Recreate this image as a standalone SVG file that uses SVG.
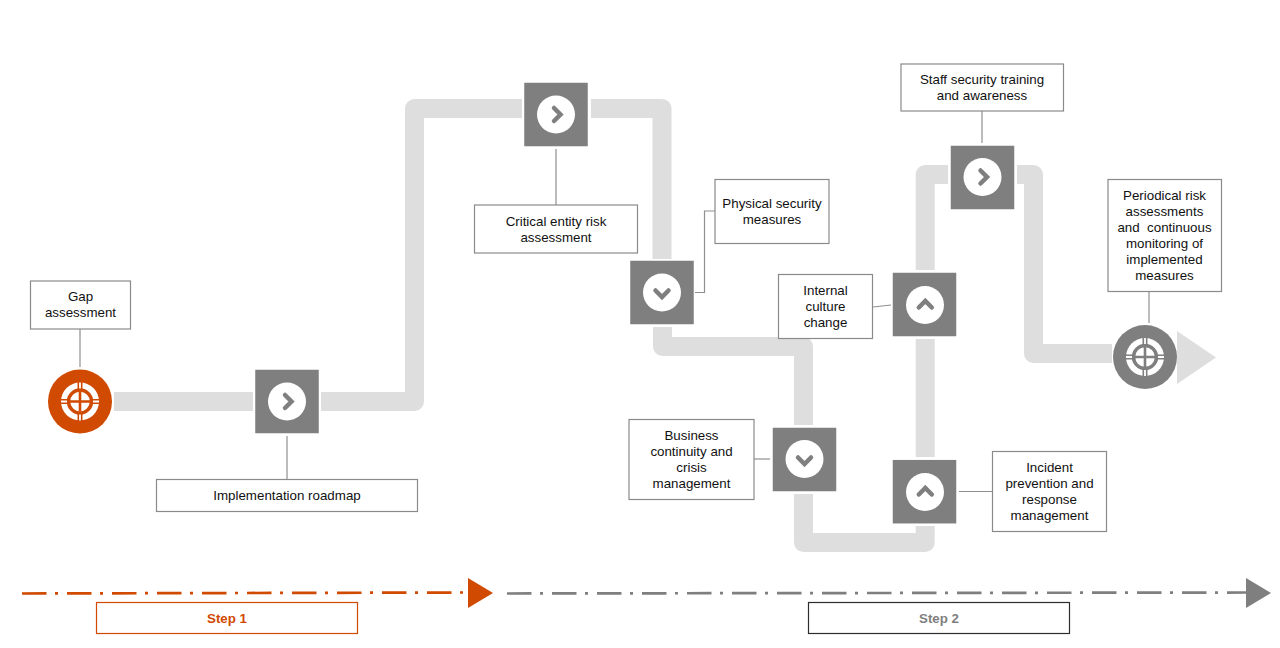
<svg xmlns="http://www.w3.org/2000/svg" width="1280" height="648" viewBox="0 0 1280 648">
<style>
.track{fill:none;stroke:#dedede;stroke-width:19;stroke-linejoin:round}
.lead{fill:none;stroke:#8f8f8f;stroke-width:1.2}
.box{fill:#fff;stroke:#8a8a8a;stroke-width:1.2}
.sq{fill:#7f7f7f}
.disc{fill:#fff}
.chev{fill:none;stroke:#7f7f7f;stroke-width:4.5;stroke-linecap:round;stroke-linejoin:miter}
text{font-family:"Liberation Sans",Arial,sans-serif;font-size:13.33px;fill:#111;text-anchor:middle}
.step{font-weight:700}
.tl{fill:none;stroke-width:2.700;stroke-dasharray:24.5 8.5 3 9}
.tick{fill:none;stroke:#fff;stroke-width:1.800}
.o{color:#d04a02}
.g{color:#7f7f7f}
</style>
<defs>
<g id="target">
<circle r="32" fill="currentColor"/>
<circle r="19" fill="#fff"/>
<circle r="11.500" fill="none" stroke="currentColor" stroke-width="3.500"/>
<path d="M0 -20V-12M0 20V12M-20 0H-12M20 0H12" fill="none" stroke="currentColor" stroke-width="5"/>
<path d="M0 -10V10M-10 0H10" fill="none" stroke="currentColor" stroke-width="2.600"/>
<path class="tick" d="M0 -19V-13M0 19V13M-19 0H-13M19 0H13"/>
</g>
<g id="squareIcon"><rect x="-31.750" y="-31.750" width="63.500" height="63.500" class="sq"/></g>
</defs>
<g id="connectors">
<path class="track" d="M114 401.500H253"/>
<path class="track" d="M321 401.500H414.500V108.500H522"/>
<path class="track" d="M591 108.500H662V259"/>
<path class="track" d="M662.500 327V346.500H803.500V425"/>
<path class="track" d="M803.500 494V542.500H925.200V526"/>
<path class="track" d="M925.200 457V339"/>
<path class="track" d="M925.200 270V174.500H948"/>
<path class="track" d="M1017 174.500H1033.500V353.500H1112"/>
<path fill="#dedede" d="M1177 331L1216 357.500L1177 384Z"/>
<path class="lead" d="M80 329V367"/>
<path class="lead" d="M287 436V479"/>
<path class="lead" d="M556 149V205"/>
<path class="lead" d="M695 292.500H704.500V211H715"/>
<path class="lead" d="M873 307L891 305"/>
<path class="lead" d="M754 459H770"/>
<path class="lead" d="M959 491.500H992"/>
<path class="lead" d="M982 111V143"/>
<path class="lead" d="M1149 292V323"/>
<path class="tl" stroke="#d04a02" d="M22 593.500L467 592.500"/>
<path fill="#d04a02" d="M468 578L493 593L468 608Z"/>
<path class="tl" stroke="#7f7f7f" d="M507 593.500L1246 592.500"/>
<path fill="#7f7f7f" d="M1246 578L1271 593L1246 608Z"/>
</g>
<g id="n-start" class="o"><use href="#target" x="80" y="401.500"/></g>
<g id="n-end" class="g"><use href="#target" x="1145" y="357"/></g>
<g id="n-impl"><use href="#squareIcon" x="287" y="401.500"/><circle class="disc" cx="287" cy="401.500" r="19"/><path class="chev" d="M285 395L291.500 401.500L285 408"/></g>
<g id="n-crit"><use href="#squareIcon" x="556" y="114.500"/><circle class="disc" cx="556" cy="114.500" r="19"/><path class="chev" d="M554 108L560.500 114.500L554 121"/></g>
<g id="n-phys"><use href="#squareIcon" x="662" y="292.500"/><circle class="disc" cx="662" cy="292.500" r="19"/><path class="chev" d="M655.500 290.500L662 297L668.500 290.500"/></g>
<g id="n-bus"><use href="#squareIcon" x="804.500" y="459.500"/><circle class="disc" cx="804.500" cy="459" r="19"/><path class="chev" d="M798 457.500L804.500 464L811 457.500"/></g>
<g id="n-inc"><use href="#squareIcon" x="924.500" y="491.700"/><circle class="disc" cx="925" cy="492" r="19"/><path class="chev" d="M918.800 494.500L925.300 488L931.800 494.500"/></g>
<g id="n-int"><use href="#squareIcon" x="924.500" y="304.500"/><circle class="disc" cx="925" cy="305" r="19"/><path class="chev" d="M918.800 307.500L925.300 301L931.800 307.500"/></g>
<g id="n-staff"><use href="#squareIcon" x="982.500" y="177.500"/><circle class="disc" cx="982.500" cy="177" r="19"/><path class="chev" d="M980.500 170.500L987 177L980.500 183.500"/></g>
<g id="b-gap"><rect class="box" x="30.500" y="281" width="100" height="48"/><text x="80.500" y="301">Gap</text><text x="80.500" y="317">assessment</text></g>
<g id="b-impl"><rect class="box" x="156.500" y="479.500" width="261" height="32"/><text x="287" y="500">Implementation roadmap</text></g>
<g id="b-crit"><rect class="box" x="474.500" y="205" width="163" height="48"/><text x="556" y="226">Critical entity risk</text><text x="556" y="242">assessment</text></g>
<g id="b-phys"><rect class="box" x="715" y="179.500" width="114" height="64"/><text x="772" y="208">Physical security</text><text x="772" y="224">measures</text></g>
<g id="b-int"><rect class="box" x="778.500" y="274.500" width="94" height="64"/><text x="825.500" y="295">Internal</text><text x="825.500" y="311">culture</text><text x="825.500" y="327">change</text></g>
<g id="b-bus"><rect class="box" x="629" y="419.500" width="125" height="80"/><text x="691.500" y="440">Business</text><text x="691.500" y="456">continuity and</text><text x="691.500" y="472">crisis</text><text x="691.500" y="488">management</text></g>
<g id="b-inc"><rect class="box" x="992.500" y="451.500" width="114" height="80"/><text x="1049.500" y="472">Incident</text><text x="1049.500" y="488">prevention and</text><text x="1049.500" y="504">response</text><text x="1049.500" y="520">management</text></g>
<g id="b-staff"><rect class="box" x="901" y="64" width="162.500" height="47"/><text x="982" y="84">Staff security training</text><text x="982" y="100">and awareness</text></g>
<g id="b-per"><rect class="box" x="1108" y="179.500" width="113.500" height="112"/><text x="1164.500" y="200">Periodical risk</text><text x="1164.500" y="216">assessments</text><text x="1164.500" y="232" xml:space="preserve">and  continuous</text><text x="1164.500" y="248">monitoring of</text><text x="1164.500" y="264">implemented</text><text x="1164.500" y="280">measures</text></g>
<g id="step1"><rect x="96.500" y="602.500" width="261" height="31" fill="#fff" stroke="#d04a02" stroke-width="1.2"/><text class="step" x="227" y="623" style="fill:#d04a02">Step 1</text></g>
<g id="step2"><rect x="808.500" y="602.500" width="261" height="31" fill="#fff" stroke="#2d2d2d" stroke-width="1.2"/><text class="step" x="939" y="623" style="fill:#7f7f7f">Step 2</text></g>
</svg>
